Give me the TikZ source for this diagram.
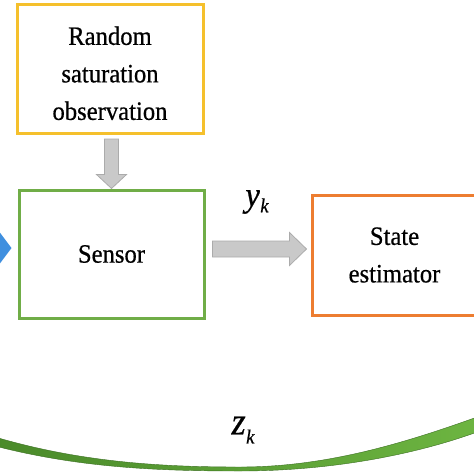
\documentclass[tikz,border=0pt]{standalone}
\usepackage{fontspec}
\setmainfont{Liberation Serif}[FakeStretch=0.93,FakeBold=0.6]
\usetikzlibrary{calc}
\definecolor{oyellow}{HTML}{F5C02C}
\definecolor{ogreen}{HTML}{70AD47}
\definecolor{oorange}{HTML}{ED7D31}
\definecolor{oblue}{HTML}{3F8FDF}
\definecolor{ogray}{HTML}{C9C9C9}
\definecolor{ograyd}{HTML}{ABABAB}
\definecolor{cdark}{HTML}{4A8A2A}
\definecolor{clight}{HTML}{6DB541}
\begin{document}
\begin{tikzpicture}[x=1pt,y=-1pt,
  box/.style={draw, line width=3pt, fill=white, align=center, inner sep=0pt,
    font=\fontsize{26.5}{37.5}\selectfont},
  fatarrow/.style={fill=ogray, draw=ograyd, line width=0.8pt, line join=miter},
  lbl/.style={inner sep=0pt}]
\useasboundingbox (0,0) rectangle (474,474);
\begin{scope}
\clip (0,0) rectangle (474,474);
% boxes
\node[box, draw=oyellow, minimum width=186pt, minimum height=129pt] (obs) at (110,68.5)
  {\rule{0pt}{28pt}Random\\saturation\\observation};
\node[box, draw=ogreen, minimum width=185pt, minimum height=128pt] (sensor) at (111.5,254)
  {Sensor};
\node[box, draw=oorange, minimum width=165pt, minimum height=120pt] (est) at (394.5,255)
  {State\\estimator};
% blue incoming arrow (partly outside the picture)
\fill[oblue] ($(sensor.west)+(-30,-38)$) -- ($(sensor.west)+(-6,-6)$) -- ($(sensor.west)+(-30,26)$) -- cycle;
% gray down arrow
\coordinate (dtop) at ($(obs.south)+(0,4.5)$);
\coordinate (dtip) at (sensor.north);
\draw[fatarrow] ($(dtip|-dtop)+(-7,0)$) -- ($(dtip|-dtop)+(7,0)$) -- ($(dtip)+(7,-14)$)
  -- ($(dtip)+(15,-14)$) -- (dtip) -- ($(dtip)+(-15,-14)$) -- ($(dtip)+(-7,-14)$) -- cycle;
% gray right arrow
\coordinate (rstart) at ($(sensor.east)+(7,-5)$);
\coordinate (rtip) at ($(rstart-|est.west)+(-4,0)$);
\draw[fatarrow] ($(rstart)+(0,-8)$) -- ($(rtip)+(-17,-8)$) -- ($(rtip)+(-17,-16.5)$) -- (rtip)
  -- ($(rtip)+(-17,16.5)$) -- ($(rtip)+(-17,8)$) -- ($(rstart)+(0,8)$) -- cycle;
\node[lbl] (yk) at (257,202) {\fontsize{35}{35}\selectfont\itshape y\kern0.5pt\raisebox{-6pt}{\fontsize{20}{20}\selectfont k}};
% green feedback crescent
\shade[left color=cdark, right color=clight, draw=cdark!80!black, line width=0.4pt]
  (-5,437) .. controls (80,462) and (160,467) .. (240,467)
  .. controls (330,467) and (410,441) .. (480,416)
  -- (480,431) .. controls (415,455) and (330,471) .. (240,471)
  .. controls (160,471) and (80,468) .. (-5,446) -- cycle;
\node[lbl] (zk) at (243,430) {\fontsize{39}{39}\selectfont\itshape z\kern0.5pt\raisebox{-9pt}{\fontsize{20}{20}\selectfont k}};
\end{scope}
\end{tikzpicture}
\end{document}
